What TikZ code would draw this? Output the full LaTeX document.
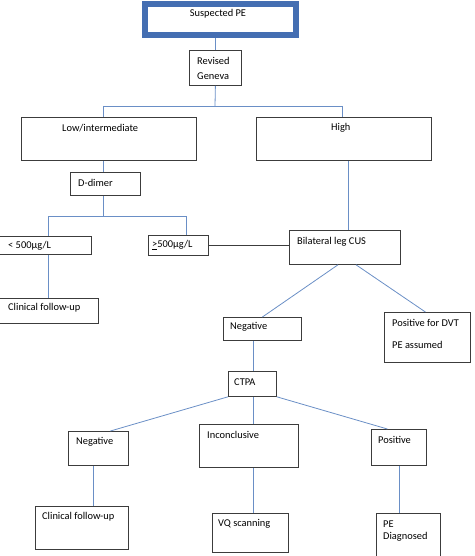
\documentclass[tikz,border=0pt]{standalone}
\usepackage{fontspec}
\setmainfont{Carlito}
\definecolor{conn}{RGB}{106,143,198}
\definecolor{topblue}{RGB}{68,110,178}
\definecolor{boxline}{RGB}{60,60,60}
\tikzset{
  box/.style={draw=boxline,line width=0.8pt,rectangle,inner sep=0pt,anchor=north west},
  txt/.style={inner sep=0pt,anchor=west,font=\fontsize{10.4}{12}\selectfont},
  link/.style={draw=conn,line width=0.8pt},
  blink/.style={draw=boxline,line width=0.8pt}
}
\newcommand\mybox[5]{\node[box,minimum width=#4pt,minimum height=#5pt] (#1) at (#2,#3) {};}
\begin{document}
\begin{tikzpicture}[x=1pt,y=-1pt]
\useasboundingbox (0,0) rectangle (474,556);
% top box
\node[draw=topblue,line width=6pt,fill=white,rectangle,inner sep=0pt,anchor=north west,minimum width=151pt,minimum height=31pt] (susp) at (142,1) {};
% boxes: name, x, y, w, h
\mybox{rg}{189}{50}{52}{35}
\mybox{low}{21}{117}{175}{43}
\mybox{high}{256}{117}{175}{43}
\mybox{dd}{70}{172}{70}{23}
\mybox{lt}{-1}{236}{92}{18}
\mybox{ge}{148}{235}{60}{20}
\mybox{bil}{289}{230}{111}{34}
\mybox{cfa}{-1}{298}{99}{25}
\mybox{nega}{223}{317}{78}{23}
\mybox{posa}{384}{312}{86}{50}
\mybox{ctpa}{228}{371}{48}{25}
\mybox{negb}{68}{431}{60}{34}
\mybox{inc}{199}{424}{99}{43}
\mybox{posb}{371}{429}{55}{36}
\mybox{cfb}{35}{506}{93}{43}
\mybox{vq}{212}{513}{76}{39}
\mybox{ped}{376}{513}{64}{52}
% texts
\node[txt,anchor=center] (t-susp) at (218,14) {Suspected PE};
\node[txt] (t-rg1) at (197,61) {Revised};
\node[txt] (t-rg2) at (197,76) {Geneva};
\node[txt] (t-low) at (62,128) {Low/intermediate};
\node[txt] (t-high) at (331,128) {High};
\node[txt] (t-dd) at (78,183) {D-dimer};
\node[txt] (t-lt) at (8,246) {< 500µg/L};
\node[txt] (t-ge) at (152,245) {\underline{>}500µg/L};
\node[txt] (t-bil) at (297,242) {Bilateral leg CUS};
\node[txt] (t-cfa) at (8,308) {Clinical follow-up};
\node[txt] (t-nega) at (230,327) {Negative};
\node[txt] (t-posa1) at (392,323) {Positive for DVT};
\node[txt] (t-posa2) at (392,345) {PE assumed};
\node[txt] (t-ctpa) at (234,382) {CTPA};
\node[txt] (t-negb) at (76,442) {Negative};
\node[txt] (t-inc) at (207,435) {Inconclusive};
\node[txt] (t-posb) at (378,440) {Positive};
\node[txt] (t-cfb) at (42,517) {Clinical follow-up};
\node[txt] (t-vq) at (218,524) {VQ scanning};
\node[txt] (t-ped1) at (383,524) {PE};
\node[txt] (t-ped2) at (383,537) {Diagnosed};
% junction coordinates
\coordinate (j0) at (215,106);
\coordinate (jl) at (103,106);
\coordinate (jr) at (342,106);
\coordinate (j2) at (103,216);
\coordinate (jl2) at (48,216);
\coordinate (jr2) at (186,216);
\coordinate (xh) at (348,0);
\coordinate (xb1) at (338,0);
\coordinate (xb2) at (356,0);
\coordinate (xn) at (253,0);
\coordinate (xc) at (93,0);
% connectors
\draw[link] (rg.north) -- (rg.north |- susp.south);
\draw[link] (rg.south) -- (j0);
\draw[link] (jl) -- (jr);
\draw[link] (jl) -- (jl |- low.north);
\draw[link] (jr) -- (jr |- high.north);
\draw[link] (low.south -| jl) -- (dd.north -| jl);
\draw[link] (dd.south -| j2) -- (j2);
\draw[link] (jl2) -- (jr2);
\draw[link] (jl2) -- (jl2 |- lt.north);
\draw[link] (jr2) -- (jr2 |- ge.north);
\draw[link] (lt.south -| jl2) -- (cfa.north -| jl2);
\draw[link] (high.south -| xh) -- (bil.north -| xh);
\draw[blink] (ge.east) -- (ge.east -| bil.west);
\draw[link] (bil.south -| xb1) -- (nega.north);
\draw[link] (bil.south -| xb2) -- ([xshift=-2pt]posa.north);
\draw[link] (nega.south -| xn) -- (ctpa.north -| xn);
\draw[link] (ctpa.south west) -- ([xshift=12pt]negb.north);
\draw[link] (ctpa.south -| xn) -- (inc.north -| xn);
\draw[link] (ctpa.south east) -- ([xshift=-11.5pt]posb.north);
\draw[link] (negb.south -| xc) -- (cfb.north -| xc);
\draw[link] (inc.south -| xn) -- (vq.north -| xn);
\draw[link] (posb.south) -- (posb.south |- ped.north);
\end{tikzpicture}
\end{document}
